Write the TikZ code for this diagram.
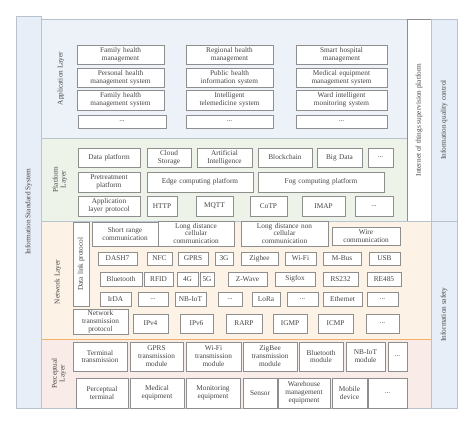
\documentclass[tikz,border=0pt]{standalone}
\usepackage{fontspec}
\setmainfont{Liberation Serif}
\definecolor{txt}{HTML}{444444}
\definecolor{bxline}{HTML}{8E8E8E}
\definecolor{pline}{HTML}{B9C3D0}
\definecolor{stripbg}{HTML}{E8EEF7}
\definecolor{appbg}{HTML}{EDF1F8}
\definecolor{platbg}{HTML}{EEF3EA}
\definecolor{netbg}{HTML}{FCF2E6}
\definecolor{percbg}{HTML}{F9ECE8}
\definecolor{orangeline}{HTML}{F2B06A}
\newcommand\rn[7]{%
 \pgfmathsetmacro\rnw{#5-#3}\pgfmathsetmacro\rnh{#6-#4}%
 \pgfmathsetmacro\rnx{(#3+#5)/2}\pgfmathsetmacro\rny{(#4+#6)/2}%
 \pgfmathsetmacro\rnt{max(#5-#3-2,4)}%
 \node[#1,minimum width=\rnw pt,minimum height=\rnh pt,text width=\rnt pt] (#2) at (\rnx,\rny) {#7};}
\tikzset{
 bx/.style={draw=bxline,line width=0.6pt,fill=white,inner sep=0pt,outer sep=0pt,align=center,text=txt,font=\fontsize{7.3}{7.9}\selectfont},
 panel/.style={draw=pline,line width=0.6pt,inner sep=0pt,outer sep=0pt},
 lbl/.style={rotate=90,align=center,text=txt,inner sep=0pt,font=\fontsize{7.3}{7.9}\selectfont}
}
\begin{document}
\begin{tikzpicture}[x=1pt,y=-1pt]
\useasboundingbox (0,0) rectangle (474,425);
% panels
\rn{panel,fill=stripbg}{iss}{16}{16}{41}{408}{}
\rn{panel,fill=appbg}{app}{41}{19}{407}{138}{}
\rn{panel,fill=platbg}{plat}{41}{138}{407}{221}{}
\rn{panel,fill=white,draw=bxline}{iot}{407}{19}{431}{221}{}
\rn{panel,fill=stripbg}{iqc}{431}{19}{457}{221}{}
\rn{panel,fill=netbg}{net}{41}{221}{431}{339}{}
\rn{panel,fill=percbg}{perc}{41}{339}{431}{408}{}
\rn{panel,fill=stripbg}{isafe}{431}{221}{457}{408}{}
\draw[orangeline,line width=0.9pt] (net.south west) -- (net.south east);
% labels
\node[lbl] (lIss) at (iss.center) {Information Standard System};
\node[lbl] (lApp) at (61,78.5) {Application Layer};
\node[lbl] (lPlat) at (60,179.5) {Platform\\Layer};
\node[lbl] (lNet) at (58,282) {Network Layer};
\node[lbl] (lPerc) at (59,373.5) {Perceptual\\Layer};
\node[lbl] (lIot) at (iot.center) {Internet of things supervision platform};
\node[lbl] (lIqc) at (iqc.center) {Information quality control};
\node[lbl] (lIsafe) at (isafe.center) {Information safety};
% application layer
\rn{bx}{a11}{77}{45}{164}{64}{Family health\\management}
\rn{bx}{a12}{77}{68}{164}{87}{Personal health\\management system}
\rn{bx}{a13}{77}{90}{164}{110}{Family health\\management system}
\rn{bx}{a14}{78}{115}{166}{128}{...}
\rn{bx}{a21}{186}{45}{273}{64}{Regional health\\management}
\rn{bx}{a22}{186}{68}{273}{87}{Public health\\information system}
\rn{bx}{a23}{186}{90}{273}{110}{Intelligent\\telemedicine system}
\rn{bx}{a24}{186}{115}{273}{128}{...}
\rn{bx}{a31}{296}{45}{387}{64}{Smart hospital\\management}
\rn{bx}{a32}{296}{68}{387}{87}{Medical equipment\\management system}
\rn{bx}{a33}{296}{90}{387}{110}{Ward intelligent\\monitoring system}
\rn{bx}{a34}{296}{115}{387}{128}{...}
% platform layer
\rn{bx}{p11}{78}{148}{140}{167}{Data platform}
\rn{bx}{p12}{147}{148}{191}{167}{Cloud\\Storage}
\rn{bx}{p13}{197}{148}{252}{167}{Artificial\\Intelligence}
\rn{bx}{p14}{258}{148}{312}{167}{Blockchain}
\rn{bx}{p15}{317}{148}{362}{167}{Big Data}
\rn{bx}{p16}{368}{148}{393}{167}{...}
\rn{bx}{p21}{78}{172}{140}{192}{Pretreatment\\platform}
\rn{bx}{p22}{147}{172}{253}{192}{Edge computing platform}
\rn{bx}{p23}{258}{172}{384}{192}{Fog computing platform}
\rn{bx}{p31}{78}{196}{140}{216}{Application\\layer protocol}
\rn{bx}{p32}{147}{196}{177}{216}{HTTP}
\rn{bx}{p33}{196}{196}{233}{216}{MQTT}
\rn{bx}{p34}{250}{196}{287}{216}{CoTP}
\rn{bx}{p35}{302}{196}{345}{216}{IMAP}
\rn{bx}{p36}{355}{196}{393}{216}{...}
% network layer
\rn{bx}{dlp}{73}{222}{89}{306}{}
\node[lbl] (lDlp) at (dlp.center) {Data link protocol};
\rn{bx}{h1}{92}{222}{158}{246}{Short range\\communication}
\rn{bx}{h2}{158}{221}{234}{246}{Long distance\\cellular\\communication}
\rn{bx}{h3}{241}{221}{328}{246}{Long distance non\\cellular\\communication}
\rn{bx}{h4}{332}{227}{400}{245}{Wire\\communication}
\rn{bx}{n11}{98}{252}{137}{265}{DASH7}
\rn{bx}{n12}{147}{252}{172}{265}{NFC}
\rn{bx}{n13}{178}{252}{208}{265}{GPRS}
\rn{bx}{n14}{215}{252}{233}{265}{3G}
\rn{bx}{n15}{241}{252}{278}{265}{Zigbee}
\rn{bx}{n16}{285}{252}{316}{265}{Wi-Fi}
\rn{bx}{n17}{323}{252}{361}{265}{M-Bus}
\rn{bx}{n18}{369}{252}{400}{265}{USB}
\rn{bx}{n21}{100}{272}{142}{286}{Bluetooth}
\rn{bx}{n22}{144}{272}{173}{286}{RFID}
\rn{bx}{n23}{177}{272}{198}{286}{4G}
\rn{bx}{n24}{200}{272}{214}{286}{5G}
\rn{bx}{n25}{228}{272}{267}{286}{Z-Wave}
\rn{bx}{n26}{275}{272}{315}{286}{Sigfox}
\rn{bx}{n27}{323}{272}{358}{286}{RS232}
\rn{bx}{n28}{367}{272}{401}{286}{RE485}
\rn{bx}{n31}{100}{292}{131}{306}{IrDA}
\rn{bx}{n32}{138}{292}{168}{306}{...}
\rn{bx}{n33}{175}{292}{206}{306}{NB-IoT}
\rn{bx}{n34}{218}{292}{242}{306}{...}
\rn{bx}{n35}{252}{292}{280}{306}{LoRa}
\rn{bx}{n36}{287}{292}{318}{306}{...}
\rn{bx}{n37}{323}{292}{362}{306}{Ethernet}
\rn{bx}{n38}{367}{292}{398}{306}{...}
\rn{bx}{n41}{73}{309}{128}{334}{Network\\transmission\\protocol}
\rn{bx}{n42}{133}{314}{168}{333}{IPv4}
\rn{bx}{n43}{180}{314}{213}{333}{IPv6}
\rn{bx}{n44}{226}{314}{262}{333}{RARP}
\rn{bx}{n45}{273}{314}{307}{333}{IGMP}
\rn{bx}{n46}{318}{314}{353}{333}{ICMP}
\rn{bx}{n47}{366}{314}{399}{333}{...}
% perceptual layer
\rn{bx}{q11}{73}{342}{127}{371}{Terminal\\transmission}
\rn{bx}{q12}{130}{342}{183}{371}{GPRS\\transmission\\module}
\rn{bx}{q13}{186}{342}{241}{371}{Wi-Fi\\transmission\\module}
\rn{bx}{q14}{243}{342}{297}{371}{ZigBee\\transmission\\module}
\rn{bx}{q15}{299}{342}{343}{371}{Bluetooth\\module}
\rn{bx}{q16}{346}{342}{385}{371}{NB-IoT\\module}
\rn{bx}{q17}{388}{342}{407}{371}{...}
\rn{bx}{q21}{76}{378}{128}{408}{Perceptual\\terminal}
\rn{bx}{q22}{130}{378}{184}{408}{Medical\\equipment}
\rn{bx}{q23}{186}{378}{240}{408}{Monitoring\\equipment}
\rn{bx}{q24}{243}{378}{277}{408}{Sensor}
\rn{bx}{q25}{278}{378}{330}{408}{Warehouse\\management\\equipment}
\rn{bx}{q26}{332}{378}{367}{408}{Mobile\\device}
\rn{bx}{q27}{368}{378}{407}{408}{...}
\end{tikzpicture}
\end{document}
